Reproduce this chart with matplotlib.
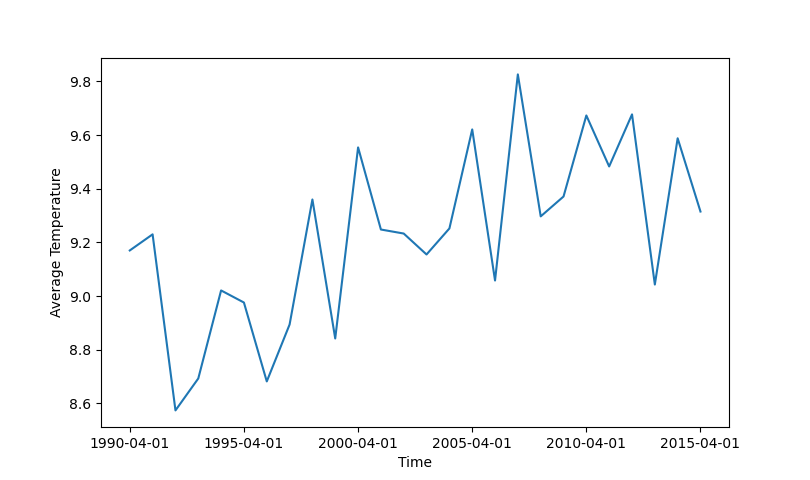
import pandas as pd
import matplotlib
matplotlib.use("Agg")
import matplotlib.pyplot as plt

years = list(range(1990, 2016))
avg_temp = [9.170, 9.230, 8.574, 8.693, 9.021, 8.976, 8.682, 8.894, 9.360, 8.842,
            9.554, 9.248, 9.233, 9.155, 9.252, 9.621, 9.058, 9.826, 9.297, 9.371,
            9.673, 9.483, 9.677, 9.043, 9.588, 9.315]
tick_years = [1990, 1995, 2000, 2005, 2010, 2015]

dates = pd.to_datetime([f"{y}-04-01" for y in years])
ticks = pd.to_datetime([f"{y}-04-01" for y in tick_years])

fig, ax = plt.subplots(figsize=(8.1, 4.8), dpi=100)
ax.plot(dates, avg_temp)
ax.set_xticks(ticks)
ax.set_xticklabels([t.strftime("%Y-%m-%d") for t in ticks])
ax.set_xlabel("Time")
ax.set_ylabel("Average Temperature")
fig.savefig("out.png")
